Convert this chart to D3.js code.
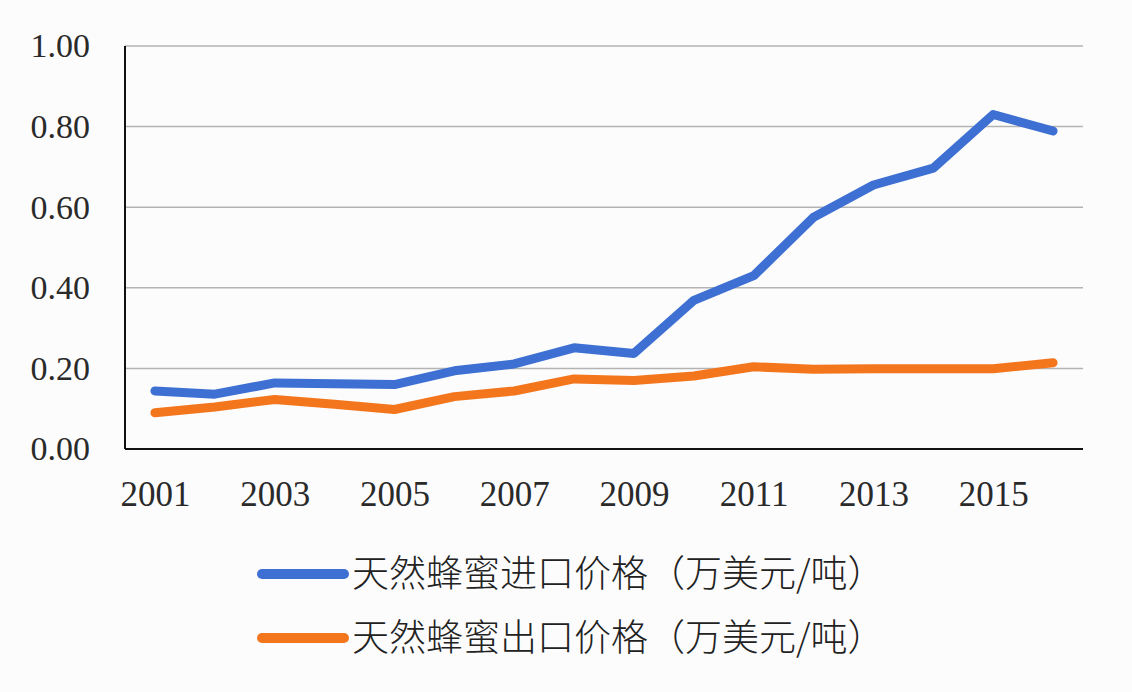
<!DOCTYPE html>
<html>
<head>
<meta charset="utf-8">
<script src="https://cdn.jsdelivr.net/npm/d3@7"></script>
<style>
  body { margin: 0; background: #fcfcfd; }
  svg { display: block; }
</style>
</head>
<body>
<div id="chart"></div>
<script>
const years = d3.range(2001, 2017);
const importPrice = [0.144, 0.136, 0.164, 0.162, 0.160, 0.194, 0.211, 0.251, 0.237, 0.369, 0.430, 0.575, 0.655, 0.697, 0.830, 0.789];
const exportPrice = [0.090, 0.104, 0.123, 0.111, 0.098, 0.130, 0.144, 0.174, 0.170, 0.181, 0.204, 0.198, 0.199, 0.199, 0.199, 0.214];
const yTicks = [0, 0.2, 0.4, 0.6, 0.8, 1.0];
const xTickYears = [2001, 2003, 2005, 2007, 2009, 2011, 2013, 2015];
const seriesNames = ['天然蜂蜜进口价格（万美元/吨）', '天然蜂蜜出口价格（万美元/吨）'];

const width = 1132;
const height = 692;
const plot = { left: 125, right: 1083, top: 46, bottom: 449 };

const svg = d3.select('#chart')
  .append('svg')
  .attr('width', width)
  .attr('height', height);

const xScale = d3.scalePoint()
  .domain(years)
  .range([plot.left, plot.right])
  .padding(0.5);

const yScale = d3.scaleLinear()
  .domain([0, 1])
  .range([plot.bottom, plot.top]);

// gridlines
svg.append('g')
  .selectAll('line')
  .data(yTicks.filter((d) => d > 0))
  .join('line')
  .attr('x1', plot.left)
  .attr('x2', plot.right)
  .attr('y1', (d) => yScale(d))
  .attr('y2', (d) => yScale(d))
  .attr('stroke', '#b3b3b3')
  .attr('stroke-width', 1.5);

// y axis
const yAxis = d3.axisLeft(yScale)
  .tickValues(yTicks)
  .tickFormat(d3.format('.2f'))
  .tickSize(0)
  .tickPadding(35);
const gy = svg.append('g')
  .attr('transform', `translate(${plot.left},0)`)
  .call(yAxis);
gy.select('.domain').remove();
gy.selectAll('text')
  .attr('font-family', '"Liberation Serif", serif')
  .attr('font-size', 34)
  .attr('fill', '#2a2a2a');

// x axis
const xAxis = d3.axisBottom(xScale)
  .tickValues(xTickYears)
  .tickSize(0)
  .tickPadding(32);
const gx = svg.append('g')
  .attr('transform', `translate(0,${plot.bottom})`)
  .call(xAxis);
gx.select('.domain').remove();
gx.selectAll('text')
  .attr('font-family', '"Liberation Serif", serif')
  .attr('font-size', 35)
  .attr('fill', '#2a2a2a');

// axis frame lines
svg.append('line')
  .attr('x1', plot.left).attr('x2', plot.left)
  .attr('y1', plot.top).attr('y2', plot.bottom)
  .attr('stroke', '#111').attr('stroke-width', 2);
svg.append('line')
  .attr('x1', plot.left).attr('x2', plot.right)
  .attr('y1', plot.bottom).attr('y2', plot.bottom)
  .attr('stroke', '#111').attr('stroke-width', 2);

const colors = ['#3d70d2', '#f4761c'];
const series = [importPrice, exportPrice];

const line = d3.line()
  .x((d, i) => xScale(years[i]))
  .y((d) => yScale(d));

svg.append('g')
  .selectAll('path')
  .data(series)
  .join('path')
  .attr('d', (d) => line(d))
  .attr('fill', 'none')
  .attr('stroke', (d, i) => colors[i])
  .attr('stroke-width', 9)
  .attr('stroke-linejoin', 'round')
  .attr('stroke-linecap', 'round');

// legend
const legend = svg.append('g')
  .selectAll('g')
  .data(seriesNames)
  .join('g')
  .attr('transform', (d, i) => `translate(262, ${574 + i * 64})`);

legend.append('line')
  .attr('x1', 0).attr('x2', 82)
  .attr('stroke', (d, i) => colors[i])
  .attr('stroke-width', 10)
  .attr('stroke-linecap', 'round');

legend.append('text')
  .attr('x', 90)
  .attr('dy', '0.36em')
  .attr('font-family', '"Noto Sans CJK SC", sans-serif')
  .attr('font-weight', 300)
  .attr('font-size', 37)
  .attr('fill', '#222')
  .text((d) => d);
</script>
</body>
</html>
